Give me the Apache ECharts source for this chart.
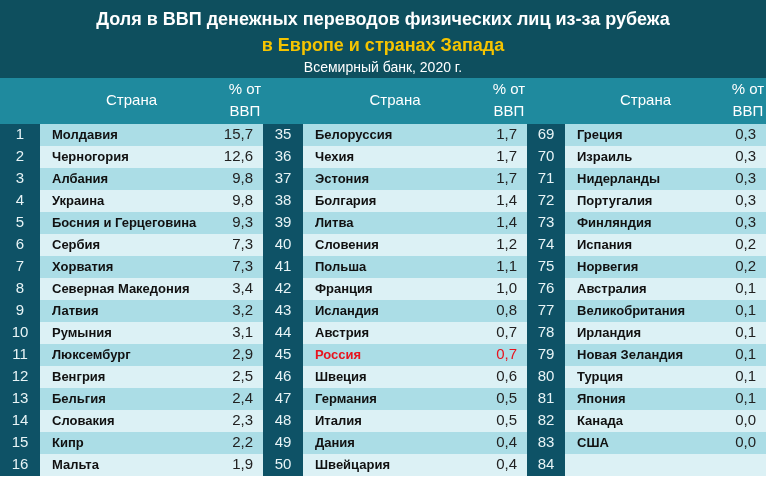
<!DOCTYPE html>
<html><head><meta charset="utf-8">
<script src="https://cdn.jsdelivr.net/npm/echarts@6/dist/echarts.min.js"></script>
<style>html,body{margin:0;padding:0;background:#fff}#main{width:766px;height:477px}</style>
</head><body><div id="main"></div>
<script>
const countries1 = ['Молдавия','Черногория','Албания','Украина','Босния и Герцеговина','Сербия','Хорватия','Северная Македония','Латвия','Румыния','Люксембург','Венгрия','Бельгия','Словакия','Кипр','Мальта'];
const values1 = ['15,7','12,6','9,8','9,8','9,3','7,3','7,3','3,4','3,2','3,1','2,9','2,5','2,4','2,3','2,2','1,9'];
const countries2 = ['Белоруссия','Чехия','Эстония','Болгария','Литва','Словения','Польша','Франция','Исландия','Австрия','Россия','Швеция','Германия','Италия','Дания','Швейцария'];
const values2 = ['1,7','1,7','1,7','1,4','1,4','1,2','1,1','1,0','0,8','0,7','0,7','0,6','0,5','0,5','0,4','0,4'];
const countries3 = ['Греция','Израиль','Нидерланды','Португалия','Финляндия','Испания','Норвегия','Австралия','Великобритания','Ирландия','Новая Зеландия','Турция','Япония','Канада','США',''];
const values3 = ['0,3','0,3','0,3','0,3','0,3','0,2','0,2','0,1','0,1','0,1','0,1','0,1','0,1','0,0','0,0',''];
const startRanks = [1, 35, 69];

const blocks = [countries1, countries2, countries3];
const vals = [values1, values2, values3];
const data = [];
blocks.forEach((b, bi) => b.forEach((n, ri) => data.push([bi, ri, startRanks[bi] + ri, n, vals[bi][ri]])));

// block x layout: rank col start, name col start, block end
const bx = [[0, 40, 263], [263, 303, 527], [527, 565, 766]];
const rowTop = 124, rowH = 22;
const font = '"Liberation Sans", Arial, sans-serif';
const narrow = '"Liberation Sans Narrow", "Arial Narrow", "Liberation Sans", sans-serif';

const chart = echarts.init(document.getElementById('main'));
chart.setOption({
  animation: false,
  title: [
    { text: 'Доля в ВВП денежных переводов физических лиц из-за рубежа', left: 'center', top: 6,
      textStyle: { color: '#fff', fontSize: 18, fontWeight: 'bold', fontFamily: narrow } },
    { text: 'в Европе и странах Запада', left: 'center', top: 32,
      textStyle: { color: '#f5c400', fontSize: 18, fontWeight: 'bold', fontFamily: narrow } },
    { text: 'Всемирный банк, 2020 г.', left: 'center', top: 56,
      textStyle: { color: '#fff', fontSize: 14, fontWeight: 'normal', fontFamily: narrow } }
  ],
  graphic: [
    { type: 'rect', z: -10, shape: { x: 0, y: 0, width: 766, height: 78 }, style: { fill: '#0e4f5e' } },
    { type: 'rect', z: -10, shape: { x: 0, y: 78, width: 766, height: 46 }, style: { fill: '#1f8a9e' } }
  ].concat(bx.flatMap(b => [
    { type: 'text', style: { x: (b[1] + b[2] - 40) / 2, y: 101, text: 'Страна', fill: '#fff', font: '15px ' + narrow, align: 'center', verticalAlign: 'middle' } },
    { type: 'text', style: { x: b[2] - 18, y: 90, text: '% от', fill: '#fff', font: '15px ' + narrow, align: 'center', verticalAlign: 'middle' } },
    { type: 'text', style: { x: b[2] - 18, y: 112, text: 'ВВП', fill: '#fff', font: '15px ' + narrow, align: 'center', verticalAlign: 'middle' } }
  ])),
  grid: { left: 0, right: 0, top: 0, bottom: 0 },
  xAxis: { type: 'value', min: 0, max: 766, show: false },
  yAxis: { type: 'value', min: 0, max: 477, inverse: true, show: false },
  series: [{
    type: 'custom',
    data: data,
    renderItem: function (params, api) {
      const bi = api.value(0), ri = api.value(1);
      const b = bx[bi];
      const p0 = api.coord([b[0], rowTop + ri * rowH]);
      const p1 = api.coord([b[1], rowTop + ri * rowH]);
      const p2 = api.coord([b[2], rowTop + (ri + 1) * rowH]);
      const cy = p0[1] + rowH / 2;
      const name = data[params.dataIndex][3];
      const val = data[params.dataIndex][4];
      const red = name === 'Россия';
      return { type: 'group', children: [
        { type: 'rect', shape: { x: p0[0], y: p0[1], width: p1[0] - p0[0], height: p2[1] - p0[1] }, style: { fill: '#0e5266' } },
        { type: 'rect', shape: { x: p1[0], y: p0[1], width: p2[0] - p1[0], height: p2[1] - p0[1] }, style: { fill: ri % 2 === 0 ? '#abdde6' : '#dcf1f5' } },
        { type: 'text', style: { x: (p0[0] + p1[0]) / 2, y: cy, text: String(api.value(2)), fill: '#e8f4f6', font: '15px ' + narrow, align: 'center', verticalAlign: 'middle' } },
        { type: 'text', style: { x: p1[0] + 12, y: cy, text: name, fill: red ? '#e8141e' : '#111', font: 'bold 13px ' + font, verticalAlign: 'middle' } },
        { type: 'text', style: { x: p2[0] - 10, y: cy, text: val, fill: red ? '#e8141e' : '#222', font: '15px ' + narrow, align: 'right', verticalAlign: 'middle' } }
      ] };
    }
  }]
});
</script></body></html>
